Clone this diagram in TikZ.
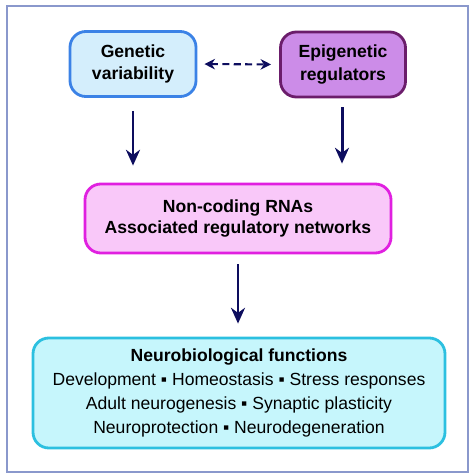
\documentclass[tikz,border=0pt]{standalone}
\usepackage{fontspec}
\setmainfont{Liberation Sans}
\usetikzlibrary{arrows.meta}
\definecolor{genfill}{HTML}{D4EEFC}
\definecolor{gendraw}{HTML}{3B82E6}
\definecolor{epifill}{HTML}{CC8CE8}
\definecolor{epidraw}{HTML}{6B1D6B}
\definecolor{ncrfill}{HTML}{F9C8F9}
\definecolor{ncrdraw}{HTML}{E020E0}
\definecolor{neufill}{HTML}{C6F6FC}
\definecolor{neudraw}{HTML}{2CC0E0}
\definecolor{arrcol}{HTML}{0D0D5E}
\definecolor{framecol}{HTML}{8A98CC}
\begin{document}
\begin{tikzpicture}[x=0.02cm, y=-0.02cm,
  every node/.style={font=\fontsize{10}{13.5}\selectfont, align=center},
  box/.style={rounded corners=9pt, line width=1.6pt, inner sep=0pt},
  title/.style={font=\fontsize{10}{13}\selectfont\bfseries},
  arr/.style={-{Stealth[length=9pt, width=8pt]}, line width=1.7pt, arrcol}]
  \useasboundingbox (0,0) rectangle (474,476);
  % Frame
  \draw[framecol, line width=0.8pt] (7,6) rectangle (468,472);
  % Top boxes
  \node[box, title, draw=gendraw, fill=genfill, minimum width=126*0.02cm, minimum height=65*0.02cm]
    (gen) at (133,64) {Genetic\\variability};
  \node[box, title, draw=epidraw, fill=epifill, minimum width=125*0.02cm, minimum height=65*0.02cm]
    (epi) at (343,64.5) {Epigenetic\\regulators};
  \draw[{Stealth[length=6pt, width=6pt]}-{Stealth[length=6pt, width=6pt]}, dash pattern=on 4pt off 2.5pt,
    line width=1.2pt, arrcol, shorten <=7*0.02cm, shorten >=8*0.02cm] (gen.east) -- (epi.west);
  % Middle box
  \node[box, draw=ncrdraw, fill=ncrfill, minimum width=306*0.02cm, minimum height=69*0.02cm,
    font=\fontsize{10}{12}\selectfont\bfseries] (ncr) at (238,218.5) {Non-coding RNAs\\Associated regulatory networks};
  % Bottom box
  \node[box, draw=neudraw, fill=neufill, minimum width=412*0.02cm, minimum height=110*0.02cm] (neu) at (239,393)
    {\textbf{Neurobiological functions}\\Development ▪ Homeostasis ▪ Stress responses\\Adult neurogenesis ▪ Synaptic plasticity\\Neuroprotection ▪ Neurodegeneration};
  % Arrows
  \draw[arr, shorten <=13*0.02cm, shorten >=17*0.02cm] (gen.south) -- (gen.south |- ncr.north);
  \draw[arr, shorten <=9*0.02cm, shorten >=19*0.02cm] ([xshift=-1*0.02cm]epi.south) -- ([xshift=-1*0.02cm]epi.south |- ncr.north);
  \draw[arr, shorten <=10*0.02cm, shorten >=13*0.02cm] (ncr.south) -- (ncr.south |- neu.north);
\end{tikzpicture}
\end{document}
